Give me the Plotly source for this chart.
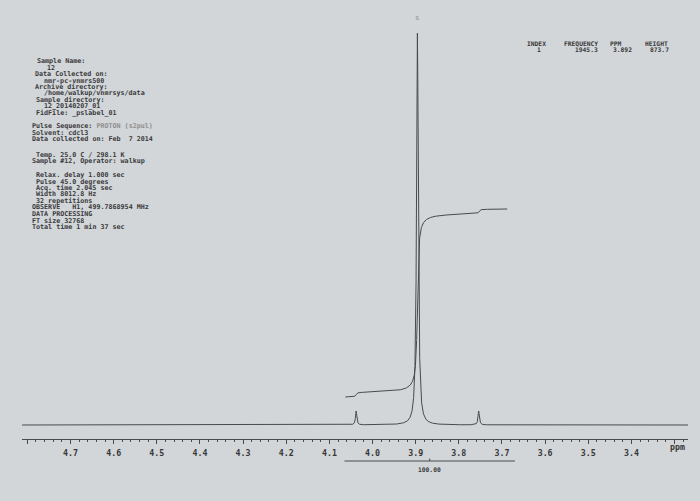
import numpy as np
import plotly.graph_objects as go

# ---------------- data ----------------
peak_ppm = [4.038, 3.896, 3.754]          # 13C satellite, main CH3 line, 13C satellite
peak_height = [31.0, 873.7, 31.0]
peak_fwhm = [0.0035, 0.0048, 0.0035]     # ppm

integral_from = 4.063
integral_to = 3.688
integral_value = "100.00"
integral_bar = [4.065, 3.670]

major_ticks = [4.8, 4.7, 4.6, 4.5, 4.4, 4.3, 4.2, 4.1, 4.0, 3.9, 3.8, 3.7, 3.6, 3.5, 3.4, 3.3]
major_labels = ["", "4.7", "4.6", "4.5", "4.4", "4.3", "4.2", "4.1", "4.0", "3.9", "3.8",
                "3.7", "3.6", "3.5", "3.4", ""]

table_header = ["INDEX", "FREQUENCY", "PPM", "HEIGHT"]
table_row = ["1", "1945.3", "3.892", "873.7"]

info_lines = [
    "Sample Name:", "12", "Data Collected on:", "nmr-pc-vnmrs500", "Archive directory:",
    "/home/walkup/vnmrsys/data", "Sample directory:", "12_20140207_01", "FidFile: _pslabel_01",
    "Pulse Sequence: <span style='color:#8e8e90'>PROTON (s2pul)</span>", "Solvent: cdcl3",
    "Data collected on: Feb  7 2014",
    "Temp. 25.0 C / 298.1 K", "Sample #12, Operator: walkup",
    "Relax. delay 1.000 sec", "Pulse 45.0 degrees", "Acq. time 2.045 sec", "Width 8012.8 Hz",
    "32 repetitions", "OBSERVE   H1, 499.7868954 MHz", "DATA PROCESSING", "FT size 32768",
    "Total time 1 min 37 sec",
]

# ---------------- layout helpers (pixels) ----------------
W, H = 700, 501
info_x = [35, 45, 33, 42, 33, 42, 34, 42, 34, 30, 30, 30, 34, 30, 34, 34, 34, 34, 34, 30, 30, 30, 30]
info_y = [61, 67.5, 74, 80.5, 87, 93.5, 100, 106.5, 113, 126, 132.5, 139, 155, 161.5,
          175, 181.5, 188, 194.5, 201, 207.5, 214, 220.5, 227]
hdr_x = [525, 562, 608, 643]
row_x = [535, 573, 611, 648]

X_RANGE = [4.8124, 3.2689]
Y_RANGE = [-31.2, 947.25]
AXIS_Y_PX = 439

ppm = np.linspace(X_RANGE[0], X_RANGE[1], 30001)
spec = np.zeros_like(ppm)
for p, h, w in zip(peak_ppm, peak_height, peak_fwhm):
    g = (w / 2) ** 2
    spec += h * g / ((ppm - p) ** 2 + g)

mask = (ppm <= integral_from) & (ppm >= integral_to)
xi = ppm[mask]
si = spec[mask]
cum = np.concatenate([[0], np.cumsum((si[1:] + si[:-1]) / 2)])
cum = cum / cum[-1]
integ = 62.4 + 419.0 * cum

INK = "#4a4a4c"
TXT = "#38383a"
BG = "#d2d6d8"
MONO = "DejaVu Sans Mono"

fig = go.Figure()
fig.add_trace(go.Scatter(x=ppm, y=spec, mode="lines", line=dict(color=INK, width=1),
                         hoverinfo="skip", showlegend=False))
fig.add_trace(go.Scatter(x=xi, y=integ, mode="lines", line=dict(color=INK, width=1),
                         hoverinfo="skip", showlegend=False))

ann = []
def px(xp, yp, text, size=6.7, color=TXT, xanchor="left", yanchor="middle", weight="bold"):
    ann.append(dict(x=xp / W, y=1 - yp / H, xref="paper", yref="paper", text=text,
                    showarrow=False, xanchor=xanchor, yanchor=yanchor,
                    font=dict(family=MONO, size=size, color=color, weight=weight)))

for t, x0, y0 in zip(info_lines, info_x, info_y):
    px(x0, y0, t)
for t, x0 in zip(table_header, hdr_x):
    px(x0, 43, t, size=6.3)
for t, x0 in zip(table_row, row_x):
    px(x0, 49.5, t, size=6.3)
px(677, 447, "ppm", size=8.3, xanchor="center")

# integral bar and value
ann.append(dict(x=sum(integral_bar) / 2, y=1 - 469 / H, xref="x", yref="paper",
                text=integral_value, showarrow=False, xanchor="center", yanchor="middle",
                font=dict(family=MONO, size=6.3, color=TXT, weight="bold")))
ann.append(dict(x=peak_ppm[1], y=1 - 18 / H, xref="x", yref="paper", text="s",
                showarrow=False, xanchor="center", yanchor="middle",
                font=dict(family=MONO, size=7, color="#8c8c8e")))

shapes = [
    dict(type="line", xref="x", yref="paper", x0=integral_bar[0], x1=integral_bar[1],
         y0=1 - 461 / H, y1=1 - 461 / H, line=dict(color=INK, width=1)),
    dict(type="line", xref="x", yref="paper", x0=sum(integral_bar) / 2, x1=sum(integral_bar) / 2,
         y0=1 - 461 / H, y1=1 - 458.5 / H, line=dict(color=INK, width=1)),
]

fig.update_layout(
    width=W, height=H, autosize=False,
    margin=dict(l=0, r=0, t=0, b=0),
    paper_bgcolor=BG, plot_bgcolor=BG,
    annotations=ann, shapes=shapes,
    xaxis=dict(domain=[22 / W, 688 / W], range=X_RANGE, showgrid=False, zeroline=False,
               showline=True, linecolor=INK, linewidth=1,
               tickmode="array", tickvals=major_ticks, ticktext=major_labels,
               ticks="outside", ticklen=4, tickwidth=1, tickcolor=INK,
               tickfont=dict(family=MONO, size=8.3, color=TXT, weight="bold"),
               ticklabelstandoff=2,
               minor=dict(tickmode="linear", tick0=0, dtick=0.02, ticks="outside",
                          ticklen=2, tickwidth=1, tickcolor=INK)),
    yaxis=dict(domain=[1 - AXIS_Y_PX / H, 1], range=Y_RANGE, visible=False,
               showgrid=False, zeroline=False),
)

fig.write_html("out.html", config={"displayModeBar": False},
               post_script="document.body.style.margin='0';document.body.style.overflow='hidden';"
                           "document.body.style.background='" + BG + "';")
